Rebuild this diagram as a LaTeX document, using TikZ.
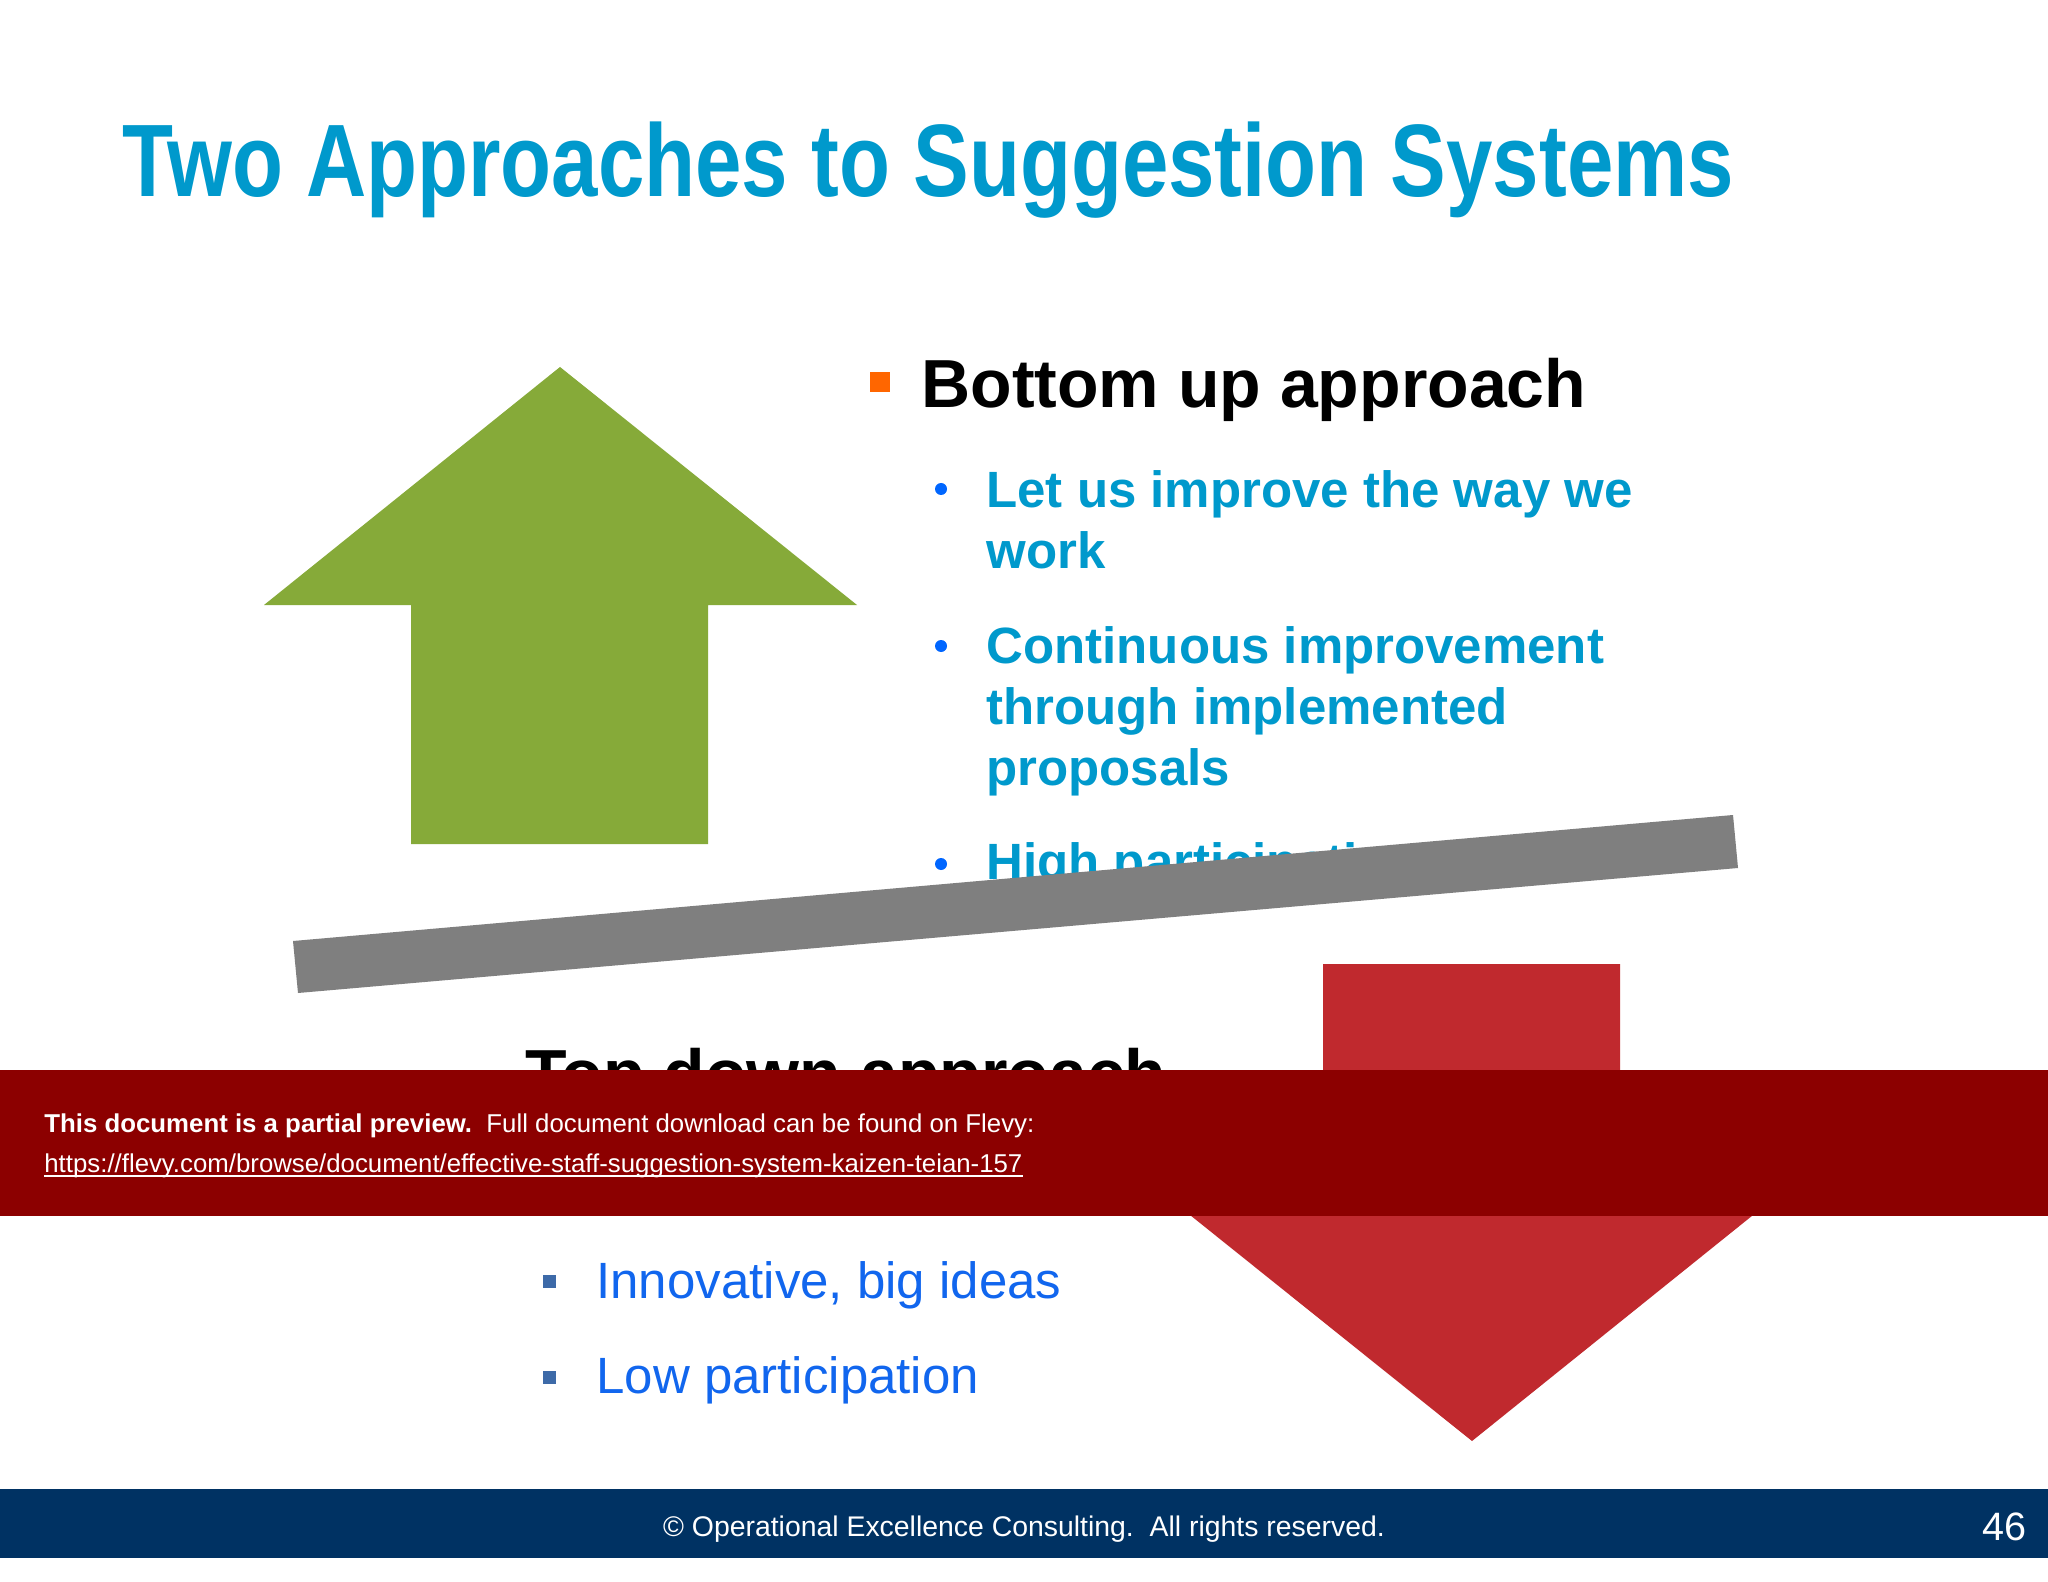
\documentclass[tikz,border=0pt]{standalone}
\usepackage{fontspec}
\setmainfont{Liberation Sans}
\newfontfamily\titlefont[FakeStretch=0.81]{Liberation Sans}

\definecolor{titleblue}{RGB}{0,153,204}
\definecolor{upgreen}{RGB}{134,170,57}
\definecolor{downred}{RGB}{192,41,46}
\definecolor{notered}{RGB}{140,0,0}
\definecolor{footblue}{RGB}{0,50,99}
\definecolor{dotblue}{RGB}{0,102,255}
\definecolor{lowblue}{RGB}{17,102,238}
\definecolor{sqblue}{RGB}{61,106,168}
\definecolor{bulorange}{RGB}{255,102,0}
\definecolor{seesaw}{RGB}{127,127,127}

\begin{document}
\begin{tikzpicture}[x=0.5pt,y=-0.5pt,
    txt/.style={inner sep=0pt,anchor=base west},
    head/.style={txt,font=\fontsize{34}{40}\selectfont\bfseries},
    point/.style={txt,align=left,text=titleblue,font=\fontsize{25.5}{30.5}\selectfont\bfseries},
    minor/.style={txt,text=lowblue,font=\fontsize{25.5}{30.5}\selectfont},
    dot/.style={circle,fill=dotblue,inner sep=0pt,minimum size=6pt},
    sq/.style={fill=sqblue,inner sep=0pt,minimum size=6.5pt}]
      \useasboundingbox (0,0) rectangle (2048,1582);
      \fill[white] (0,0) rectangle (2048,1582);
      % title
      \node[txt,text=titleblue,font=\titlefont\bfseries\fontsize{51.5}{60}\selectfont] (title) at (122,197) {Two Approaches to Suggestion Systems};
      % up arrow
      \fill[upgreen] (560,367) -- (857,605) -- (708,605) -- (708,844) -- (411,844) -- (411,605) -- (264,605) -- cycle;
      % bottom up (base of a wrapped point = its last line)
      \node[fill=bulorange,inner sep=0pt,minimum size=10pt] (upsq) at (880,382) {};
      \node[head] (bottomup) at (921,408) {Bottom up approach};
      \node[dot] (d1) at (941,489) {};
      \node[point] (p1) at (986,568) {Let us improve the way we\\work};
      \node[dot] (d2) at (941,646) {};
      \node[point] (p2) at (986,785) {Continuous improvement\\through implemented\\proposals};
      \node[dot] (d3) at (941,864) {};
      \node[point] (p3) at (986,879) {High participation};
      % seesaw
      \fill[seesaw] (293,941) -- (1733,815) -- (1738,868) -- (298,993) -- cycle;
      % down arrow
      \fill[downred] (1323,964) -- (1620,964) -- (1620,1203) -- (1768,1203) -- (1472,1441) -- (1175,1203) -- (1323,1203) -- cycle;
      \node[head] (topdown) at (525,1097) {Top down approach};
      % preview note
      \fill[notered] (0,1070) rectangle (2048,1216);
      \node[txt,text=white,font=\fontsize{12.9}{15}\selectfont] (note) at (44,1132) {\textbf{This document is a partial preview.}\ \ Full document download can be found on Flevy:};
      \node[txt,text=white,font=\fontsize{12.9}{15}\selectfont] (link) at (44,1172) {https://flevy.com/browse/document/effective-staff-suggestion-system-kaizen-teian-157};
      \draw[white,line width=0.6pt] ([yshift=-2pt]link.base west) -- ([yshift=-2pt]link.base east);
      % top down
      \node[sq] (s1) at (549,1281) {};
      \node[minor] (m1) at (596,1298) {Innovative, big ideas};
      \node[sq] (s2) at (549,1377) {};
      \node[minor] (m2) at (596,1393) {Low participation};
      % footer
      \fill[footblue] (0,1489) rectangle (2048,1558);
      \node[inner sep=0pt,anchor=base,text=white,font=\fontsize{14.2}{17}\selectfont] (copy) at (1024,1536) {© Operational Excellence Consulting.\ \ All rights reserved.};
      \node[inner sep=0pt,anchor=base east,text=white,font=\fontsize{19.8}{24}\selectfont] (page) at (2027,1540) {46};
    \end{tikzpicture}
\end{document}
